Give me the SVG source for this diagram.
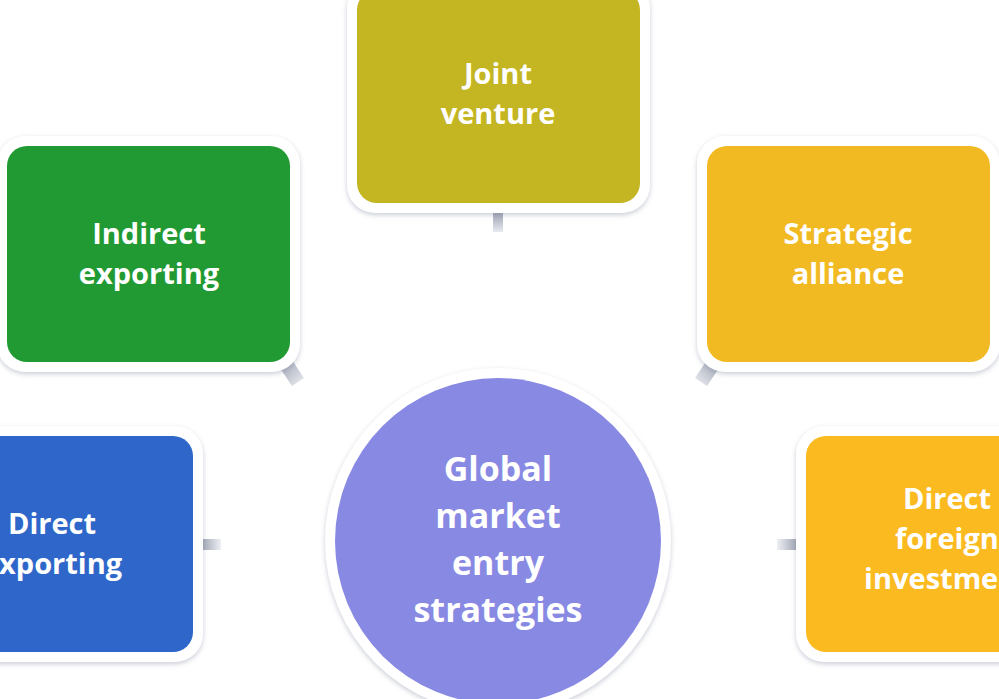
<svg xmlns="http://www.w3.org/2000/svg" width="999" height="699" viewBox="0 0 999 699">
<style>
.frame{fill:#ffffff;filter:url(#sh)}
.lbl{font-family:"Open Sans","Liberation Sans",sans-serif;font-weight:bold;fill:#ffffff;text-anchor:middle;font-size:29px}
.big{font-size:34px}
</style>
<defs>
<filter id="sh" x="-10%" y="-10%" width="120%" height="120%">
<feDropShadow dx="0" dy="2" stdDeviation="2.5" flood-color="#8a8fa8" flood-opacity="0.45"/>
</filter>
<linearGradient id="gv" x1="0" y1="0" x2="0" y2="1">
<stop offset="0" stop-color="#9aa0b0"/><stop offset="1" stop-color="#e8eaf0"/>
</linearGradient>
<linearGradient id="gl" x1="0" y1="0" x2="1" y2="0">
<stop offset="0" stop-color="#9aa0b0"/><stop offset="1" stop-color="#eef0f4"/>
</linearGradient>
<linearGradient id="gr" x1="1" y1="0" x2="0" y2="0">
<stop offset="0" stop-color="#9aa0b0"/><stop offset="1" stop-color="#eef0f4"/>
</linearGradient>
<linearGradient id="gd1" x1="0" y1="0" x2="1" y2="1">
<stop offset="0" stop-color="#9aa0b0"/><stop offset="1" stop-color="#eef0f4"/>
</linearGradient>
<linearGradient id="gd2" x1="1" y1="0" x2="0" y2="1">
<stop offset="0" stop-color="#9aa0b0"/><stop offset="1" stop-color="#eef0f4"/>
</linearGradient>
</defs>
<rect width="999" height="699" fill="#ffffff"/>
<g id="connectors">
<rect x="493" y="212" width="10" height="20" fill="url(#gv)"/>
<polygon points="280,368 292,360 304,378 292,386" fill="url(#gd1)"/>
<polygon points="719,368 707,360 695,378 707,386" fill="url(#gd2)"/>
<rect x="201" y="539" width="20" height="11" fill="url(#gl)"/>
<rect x="777" y="539" width="21" height="11" fill="url(#gr)"/>
</g>
<g id="joint-venture">
<rect class="frame" x="347" y="-20" width="303" height="233" rx="28"/>
<rect x="357" y="-10" width="283" height="213" rx="20" fill="#C4B522"/>
<text class="lbl" x="498" y="84">Joint</text>
<text class="lbl" x="498" y="124">venture</text>
</g>
<g id="indirect-exporting">
<rect class="frame" x="-3" y="136" width="303" height="236" rx="28"/>
<rect x="7" y="146" width="283" height="216" rx="20" fill="#229A33"/>
<text class="lbl" x="149" y="244">Indirect</text>
<text class="lbl" x="149" y="284">exporting</text>
</g>
<g id="strategic-alliance">
<rect class="frame" x="697" y="136" width="303" height="236" rx="28"/>
<rect x="707" y="146" width="283" height="216" rx="20" fill="#F2BA22"/>
<text class="lbl" x="848" y="244">Strategic</text>
<text class="lbl" x="848" y="284">alliance</text>
</g>
<g id="direct-exporting">
<rect class="frame" x="-100" y="426" width="303" height="236" rx="28"/>
<rect x="-90" y="436" width="283" height="216" rx="20" fill="#2E67C9"/>
<text class="lbl" x="52" y="534">Direct</text>
<text class="lbl" x="52" y="574">exporting</text>
</g>
<g id="direct-foreign-investment">
<rect class="frame" x="796" y="426" width="303" height="236" rx="28"/>
<rect x="806" y="436" width="283" height="216" rx="20" fill="#FBBA1F"/>
<text class="lbl" x="947" y="509">Direct</text>
<text class="lbl" x="947" y="549">foreign</text>
<text class="lbl" x="947" y="589">investment</text>
</g>
<g id="center">
<circle class="frame" cx="498" cy="541" r="173"/>
<circle cx="498" cy="541" r="163" fill="#8889E3"/>
<text class="lbl big" x="498" y="481">Global</text>
<text class="lbl big" x="498" y="528">market</text>
<text class="lbl big" x="498" y="575">entry</text>
<text class="lbl big" x="498" y="622">strategies</text>
</g>
</svg>
